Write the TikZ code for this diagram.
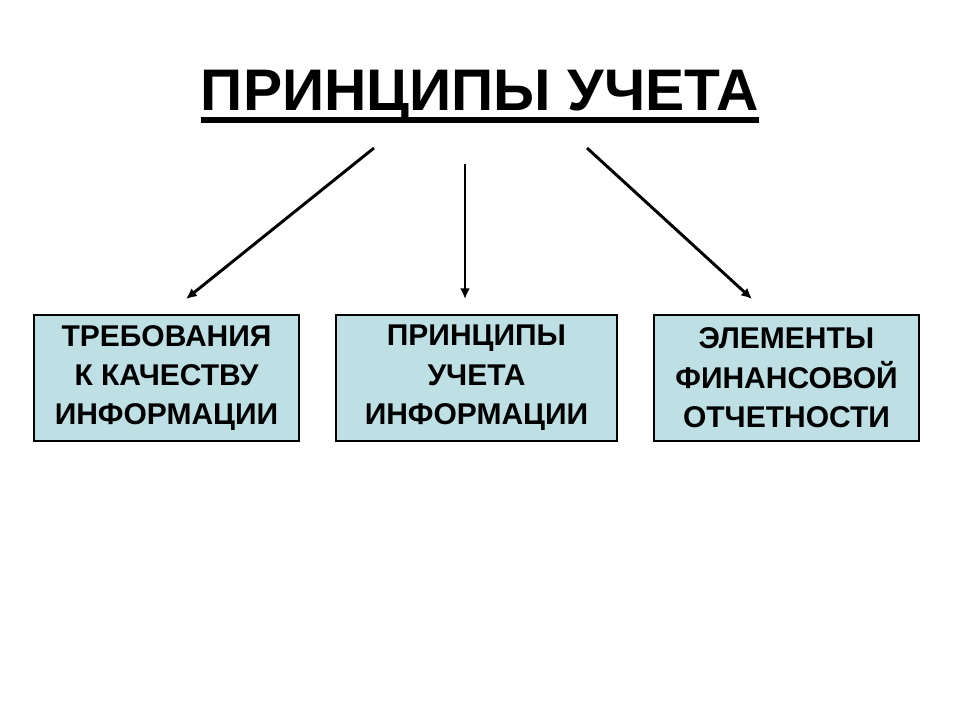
\documentclass[tikz,border=0pt]{standalone}
\usepackage{fontspec}
\setmainfont{Liberation Sans}
\usetikzlibrary{arrows.meta}
\definecolor{boxfill}{RGB}{190,224,228}

\tikzset{
    box/.style={draw=black,line width=0.8pt,fill=boxfill,inner sep=0pt,
        minimum height=94.5pt,align=center,
        font=\bfseries\fontsize{22.5}{29.5}\selectfont},
    arr/.style={-{Latex[length=8pt,width=7.5pt]},line width=2.2pt}
}

\begin{document}
\begin{tikzpicture}[x=0.75pt,y=-0.75pt]
        \useasboundingbox (0,0) rectangle (960,720);
        % title
        \node[anchor=base,inner sep=0pt,font=\bfseries\fontsize{44}{50}\selectfont] (ttl) at (480,111) {ПРИНЦИПЫ УЧЕТА};
        \draw[line width=4.5pt] ([yshift=-6.75pt]ttl.base west) -- ([yshift=-6.75pt]ttl.base east);
        % boxes
        \node[box,minimum width=198.75pt] (req) at (166.5,378) {ТРЕБОВАНИЯ\\К КАЧЕСТВУ\\ИНФОРМАЦИИ};
        \node[box,minimum width=210.75pt] (prin) at (476.5,378) {ПРИНЦИПЫ\\УЧЕТА\\ИНФОРМАЦИИ};
        \node[box,minimum width=198.75pt] (elem) at (786.5,378) {ЭЛЕМЕНТЫ\\ФИНАНСОВОЙ\\ОТЧЕТНОСТИ};
        % arrows
        \coordinate (s1) at (374,148);
        \coordinate (s2) at (465,164);
        \coordinate (s3) at (587,148);
        \coordinate (e1) at (186,299);
        \coordinate (e2) at (465,299);
        \coordinate (e3) at (752,299);
        \draw[arr] (s1) -- (e1);
        \draw[arr] (s2) -- (e2);
        \draw[arr] (s3) -- (e3);
    \end{tikzpicture}
\end{document}
